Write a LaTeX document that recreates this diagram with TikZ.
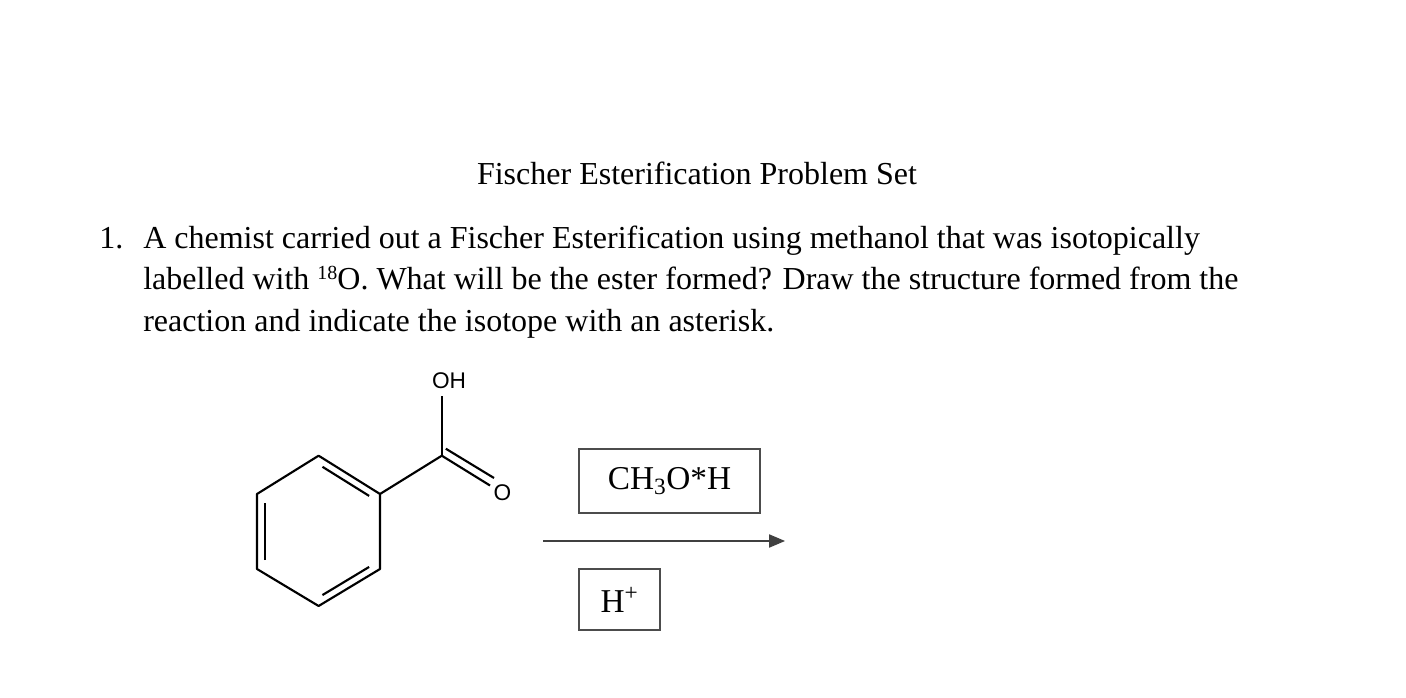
\documentclass[tikz,border=0pt]{standalone}
\usepackage{fontspec}
\setmainfont{Liberation Serif}
\newfontfamily\arial{Liberation Sans}
\usetikzlibrary{arrows.meta,calc}
\begin{document}
\begin{tikzpicture}[x=0.75pt,y=-0.75pt,
  txt/.style={anchor=base west,inner sep=0,font=\fontsize{24}{29}\selectfont},
  atom/.style={inner sep=1pt,font=\arial\fontsize{17}{20}\selectfont},
  bond/.style={line width=1.6pt,line join=round},
  reagent/.style={draw=black!70,line width=0.8pt,inner sep=0,font=\fontsize{25}{30}\selectfont}]
\useasboundingbox (0,0) rectangle (1406,698);
\node[txt,anchor=base] (title) at (697,185) {Fischer Esterification Problem Set};
\node[txt] (num) at (99,249) {1.};
\node[txt] (l1) at (143,249) {A chemist carried out a Fischer Esterification using methanol that was isotopically};
\node[txt] (l2) at (143,290) {labelled with \raisebox{0.7ex}{\fontsize{15}{15}\selectfont 18}O. What will be the ester formed? Draw the structure formed from the};
\node[txt] (l3) at (143,332) {reaction and indicate the isotope with an asterisk.};
% benzene ring
\coordinate (r1) at (318.6,455.7);
\coordinate (r2) at (380,494);
\coordinate (r3) at (380,569);
\coordinate (r4) at (318.6,606);
\coordinate (r5) at (257,569);
\coordinate (r6) at (257,494);
\draw[bond] (r1)--(r2)--(r3)--(r4)--(r5)--(r6)--cycle;
\draw[bond] ($(r1)!0.12!(r2)+(-3.5,6.5)$) -- ($(r1)!0.88!(r2)+(-3.5,6.5)$);
\draw[bond] ($(r3)!0.12!(r4)+(-3.5,-6.5)$) -- ($(r3)!0.88!(r4)+(-3.5,-6.5)$);
\draw[bond] ($(r5)!0.12!(r6)+(8,0)$) -- ($(r5)!0.88!(r6)+(8,0)$);
\coordinate (c) at (441.8,455.7);
\node[atom] (oh) at (449,381) {OH};
\node[atom] (o) at (502.5,492.5) {O};
\draw[bond] (r2)--(c);
\draw[bond] (c)--(441.8,396);
\draw[bond] (c)--(490,485.5);
\draw[bond] ($(c)+(4,-7)$)--(494,478);
\node[reagent,minimum width=181*0.75pt,minimum height=64*0.75pt] (b1) at (669.5,481) {CH\textsubscript{3}O*H};
\node[reagent,minimum width=81*0.75pt,minimum height=61*0.75pt] (b2) at (619.5,599.5) {H\textsuperscript{+}};
\coordinate (a1) at (543,541);
\coordinate (a2) at (785,541);
\draw[line width=0.8pt,black!75,-{Triangle[length=12pt,width=10pt]}] (a1)--(a2);
\end{tikzpicture}
\end{document}
